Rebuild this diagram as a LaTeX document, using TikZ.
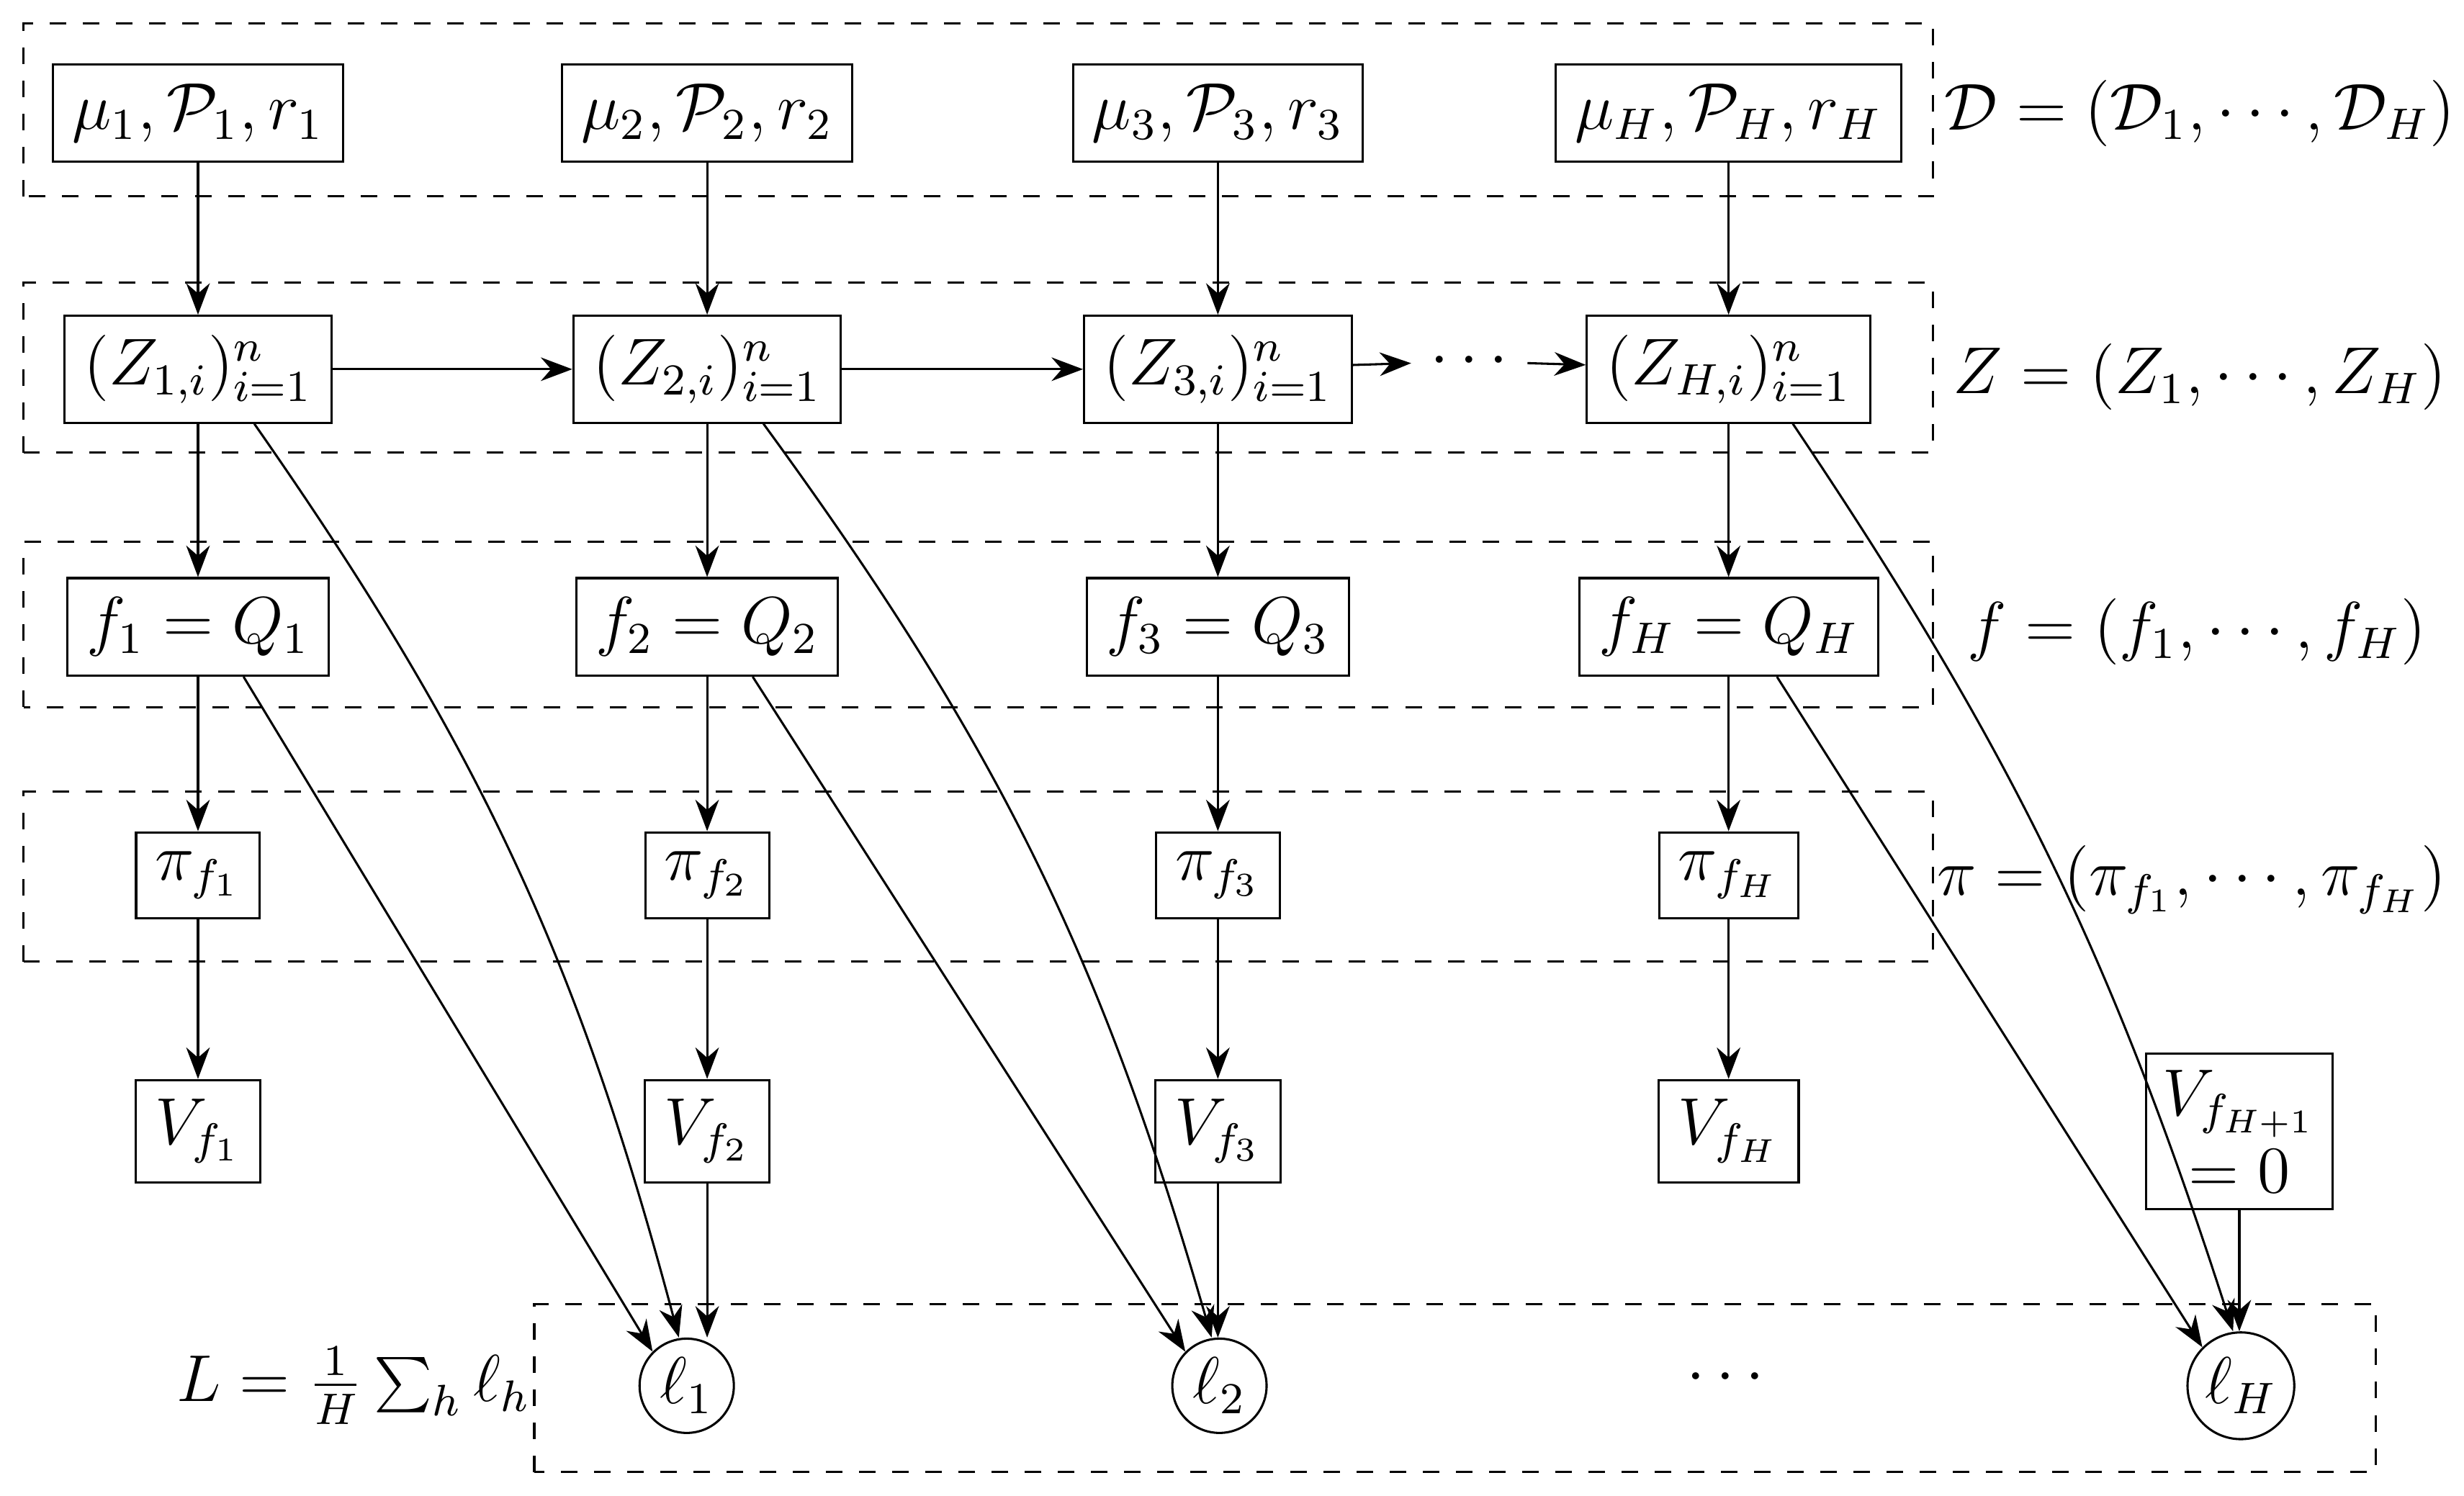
\documentclass[tikz,border=0pt]{standalone}
\usetikzlibrary{arrows.meta,
                positioning
                }
\begin{document}
\begin{tikzpicture}[
    x=1cm, y=1cm,
    every node/.style = {font=\large},
    box/.style = {draw, inner sep=3.5pt, align=center},
    lss/.style = {draw, circle, minimum size=6mm, inner sep=1pt},
    grp/.style = {draw, dashed},
    arr/.style = {-{Stealth[length=2mm]}}
                    ]
\useasboundingbox (0,0) rectangle (15.68,9.52);
% dashed groups
\draw[grp] (0.15,8.27) rectangle (12.30,9.37);
\draw[grp] (0.15,6.64) rectangle (12.30,7.72);
\draw[grp] (0.15,5.02) rectangle (12.30,6.07);
\draw[grp] (0.15,3.40) rectangle (12.30,4.48);
\draw[grp] (3.40,0.15) rectangle (15.12,1.22);
% data row
\node (d1) [box] at (1.26,8.80) {$\mu_1,\mathcal{P}_1,r_1$};
\node (d2) [box] at (4.50,8.80) {$\mu_2,\mathcal{P}_2,r_2$};
\node (d3) [box] at (7.75,8.80) {$\mu_3,\mathcal{P}_3,r_3$};
\node (dH) [box] at (11.00,8.80) {$\mu_H,\mathcal{P}_H,r_H$};
% Z row
\node (z1) [box] at (1.26,7.17) {$(Z_{1,i})_{i=1}^n$};
\node (z2) [box] at (4.50,7.17) {$(Z_{2,i})_{i=1}^n$};
\node (z3) [box] at (7.75,7.17) {$(Z_{3,i})_{i=1}^n$};
\node (zd)       at (9.35,7.22) {$\cdots$};
\node (zH) [box] at (11.00,7.17) {$(Z_{H,i})_{i=1}^n$};
% f row
\node (f1) [box] at (1.26,5.53) {$f_1=Q_1$};
\node (f2) [box] at (4.50,5.53) {$f_2=Q_2$};
\node (f3) [box] at (7.75,5.53) {$f_3=Q_3$};
\node (fH) [box] at (11.00,5.53) {$f_H=Q_H$};
% policy row
\node (p1) [box] at (1.26,3.95) {$\pi_{f_1}$};
\node (p2) [box] at (4.50,3.95) {$\pi_{f_2}$};
\node (p3) [box] at (7.75,3.95) {$\pi_{f_3}$};
\node (pH) [box] at (11.00,3.95) {$\pi_{f_H}$};
% value row
\node (v1) [box] at (1.26,2.32) {$V_{f_1}$};
\node (v2) [box] at (4.50,2.32) {$V_{f_2}$};
\node (v3) [box] at (7.75,2.32) {$V_{f_3}$};
\node (vH) [box] at (11.00,2.32) {$V_{f_H}$};
\node (vE) [box, inner sep=3pt] at (14.25,2.32) {$V_{f_{H+1}}$\\$=0$};
% losses
\node (l1) [lss] at (4.37,0.70) {$\ell_1$};
\node (l2) [lss] at (7.76,0.70) {$\ell_2$};
\node (ld)       at (10.98,0.75) {$\cdots$};
\node (lH) [lss] at (14.26,0.70) {$\ell_H$};
% labels
\node (tD) at (14.00,8.80) {$\mathcal{D}=(\mathcal{D}_1,\cdots,\mathcal{D}_H)$};
\node (tZ) at (14.00,7.12) {$Z=(Z_1,\cdots,Z_H)$};
\node (tf) at (13.98,5.50) {$f=(f_1,\cdots,f_H)$};
\node (tp) at (13.95,3.92) {$\pi=(\pi_{f_1},\cdots,\pi_{f_H})$};
\node (tL) at (2.25,0.70) {$L=\frac{1}{H}\sum_h\ell_h$};
% vertical arrows
\foreach \c in {1,2,3,H}{
  \draw[arr] (d\c) -- (z\c);
  \draw[arr] (z\c) -- (f\c);
  \draw[arr] (f\c) -- (p\c);
  \draw[arr] (p\c) -- (v\c);
}
\draw[arr] (z1) -- (z2);
\draw[arr] (z2) -- (z3);
\draw[arr] (z3) -- (zd);
\draw[arr] (zd) -- (zH);
\draw[arr] (v2.south) -- (l1.north -| v2.south);
\draw[arr] (v3.south) -- (l2.north -| v3.south);
\draw[arr] (vE) -- (vE |- lH.north);
% into losses
\draw[arr] (z1.south east) ++(-0.5,0) to[bend left=10] ([xshift=-0.5mm]l1.north);
\draw[arr] (z2.south east) ++(-0.5,0) to[bend left=10] ([xshift=-0.5mm]l2.north);
\draw[arr] (zH.south east) ++(-0.5,0) to[bend left=8] ([xshift=-0.5mm]lH.north);
\draw[arr] (f1.south east) ++(-0.55,0) -- (l1.north west);
\draw[arr] (f2.south east) ++(-0.55,0) -- (l2.north west);
\draw[arr] (fH.south east) ++(-0.65,0) -- (lH.north west);
\end{tikzpicture}
\end{document}
